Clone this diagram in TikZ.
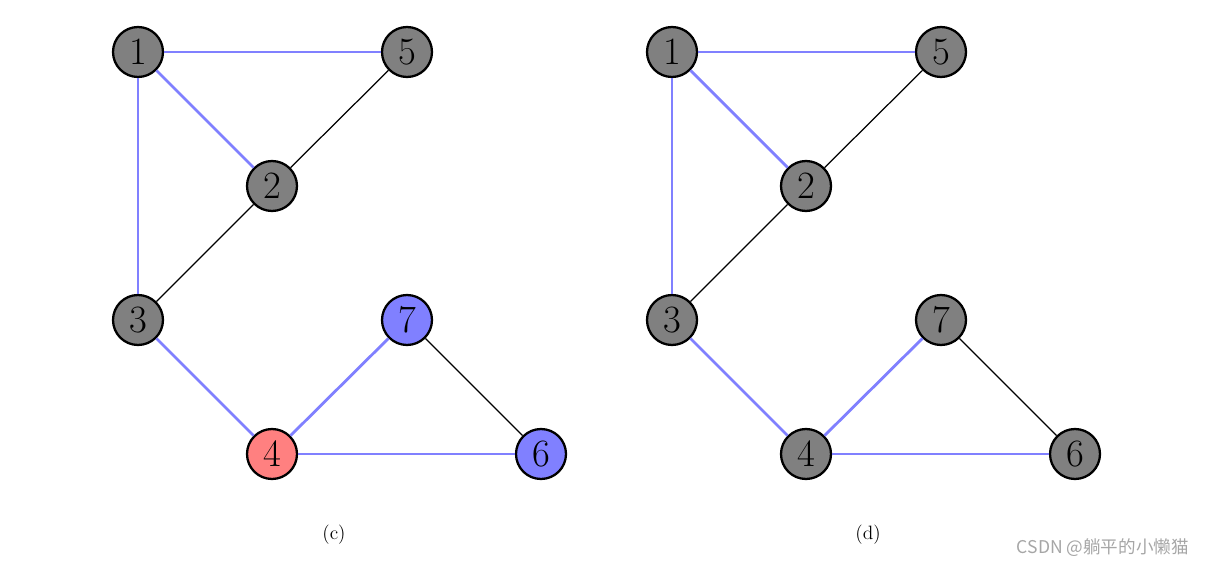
\documentclass[tikz,border=0pt]{standalone}
\usepackage{fontspec}
\newfontfamily\cjk{Noto Sans CJK SC}
\begin{document}
\begin{tikzpicture}[x=0.02cm,y=-0.02cm,
  v/.style={circle,draw=black,line width=1.3pt,fill=gray,minimum size=1cm,inner sep=0pt,font=\fontsize{22}{26}\selectfont},
  be/.style={draw=blue!50,line width=1.6pt},
  ke/.style={draw=black,line width=0.7pt}]
\useasboundingbox (0,0) rectangle (1209,567);
\foreach \p/\dx/\ca/\cb/\cap in {L/0/red!50/blue!50/(c), R/534/gray/gray/(d)}{
  \node[v] (\p1) at (138+\dx,52) {1};
  \node[v] (\p5) at (407+\dx,52) {5};
  \node[v] (\p2) at (272+\dx,186) {2};
  \node[v] (\p3) at (138+\dx,320) {3};
  \node[v,fill=\cb] (\p7) at (407+\dx,320) {7};
  \node[v,fill=\ca] (\p4) at (272+\dx,454) {4};
  \node[v,fill=\cb] (\p6) at (541+\dx,454) {6};
  \draw[be] (\p1) -- (\p5);
  \draw[be] (\p1) -- (\p2);
  \draw[be] (\p1) -- (\p3);
  \draw[ke] (\p5) -- (\p2);
  \draw[ke] (\p2) -- (\p3);
  \draw[be] (\p3) -- (\p4);
  \draw[be] (\p4) -- (\p7);
  \draw[ke] (\p7) -- (\p6);
  \draw[be] (\p4) -- (\p6);
  \node[font=\fontsize{11}{13}\selectfont] (cap\p) at (334+\dx,535) {\cap};
}
\node[anchor=east,text=gray!70,font=\cjk\fontsize{10}{12}\selectfont] (wm) at (1195,548) {CSDN @躺平的小懒猫};
\end{tikzpicture}
\end{document}
